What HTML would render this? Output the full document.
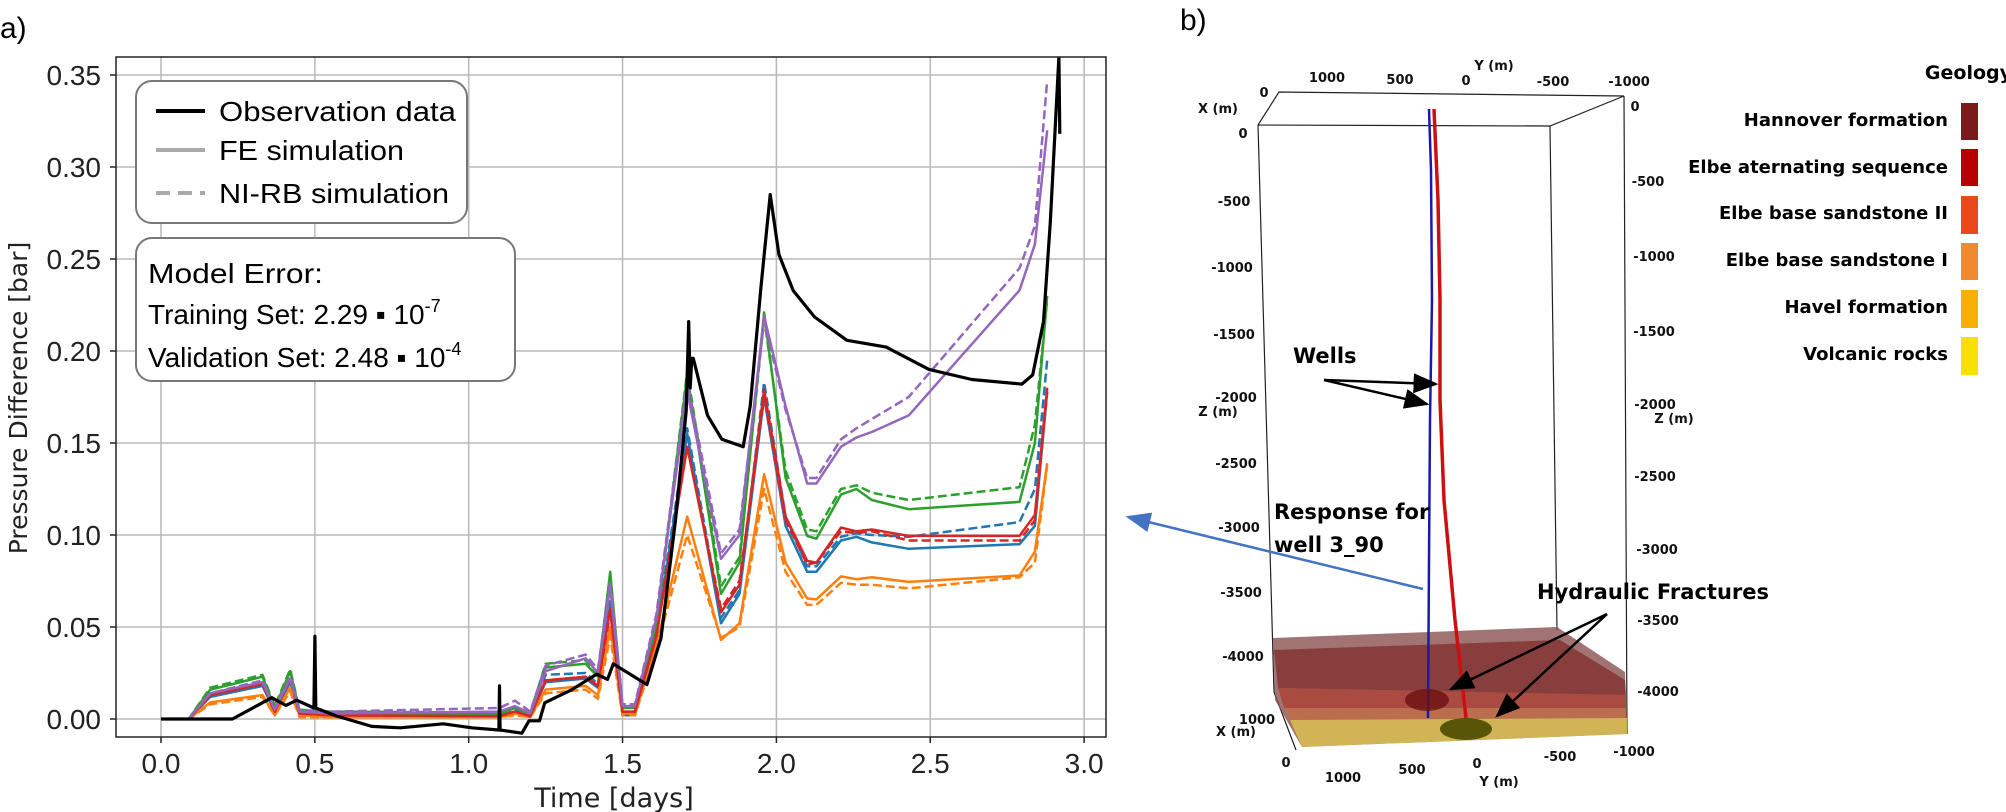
<!DOCTYPE html>
<html><head><meta charset="utf-8">
<style>
html,body{margin:0;padding:0;background:#fff;}
body{width:2006px;height:812px;overflow:hidden;position:relative;font-family:"Liberation Sans",sans-serif;}
svg{position:absolute;left:0;top:0;}
</style></head>
<body>
<svg id="chart" width="1120" height="812" viewBox="0 0 1120 812"></svg>
<svg id="model" width="2006" height="812" viewBox="0 0 2006 812" style="pointer-events:none">
  <g stroke="#222" stroke-width="1.2" fill="none">
    <polyline points="1258,125 1550,126 1624,96 1279,92 1258,125"/>
    <polyline points="1258,125 1274,692 1296,750"/>
    <polyline points="1550,126 1557,630"/>
    <polyline points="1624,96 1627,734"/>
  </g>
  <g>
    <polygon points="1273,638 1557,627 1625,672 1627,734 1302,747 1275,700" fill="#8a5050" opacity="0.8"/>
    <polygon points="1274,650 1560,640 1625,680 1626,695 1278,688" fill="#7a1a1a" opacity="0.6"/>
    <polygon points="1278,688 1626,695 1626,708 1284,708" fill="#b03020" opacity="0.6"/>
    <polygon points="1284,708 1626,708 1627,718 1290,720" fill="#d06a30" opacity="0.55"/>
    <polygon points="1290,720 1627,718 1627,734 1302,747" fill="#d8c050" opacity="0.85"/>
  </g>
  <g fill="none">
    <path d="M1429,109 L1431,170 L1432,300 L1430,420 L1429,560 L1428,718" stroke="#1a1aa8" stroke-width="2.5"/>
    <path d="M1434,109 L1438,200 L1440,300 L1440,400 L1444,500 L1455,620 L1466,718" stroke="#cc1010" stroke-width="3.5"/>
  </g>
  <ellipse cx="1427" cy="700" rx="22" ry="11" fill="#6a1010" opacity="0.8"/>
  <ellipse cx="1466" cy="729" rx="26" ry="11" fill="#4a4a00" opacity="0.9"/>
  <defs>
    <marker id="ah" markerWidth="10" markerHeight="10" refX="9" refY="5" orient="auto"><path d="M0,1 L10,5 L0,9 z" fill="#000"/></marker>
    <marker id="ahb" markerWidth="10" markerHeight="10" refX="9" refY="5" orient="auto"><path d="M0,1 L10,5 L0,9 z" fill="#4472c4"/></marker>
  </defs>
  <g stroke="#000" stroke-width="2.5">
    <line x1="1324" y1="380" x2="1436" y2="384" marker-end="url(#ah)"/>
    <line x1="1324" y1="380" x2="1427" y2="404" marker-end="url(#ah)"/>
    <line x1="1607" y1="614" x2="1451" y2="689" marker-end="url(#ah)"/>
    <line x1="1607" y1="614" x2="1497" y2="716" marker-end="url(#ah)"/>
  </g>
  <line x1="1423" y1="589" x2="1128" y2="517" stroke="#4472c4" stroke-width="2.5" marker-end="url(#ahb)"/>
  <g font-family="'DejaVu Sans',sans-serif" font-weight="bold" font-size="21" fill="#000">
    <text x="1293" y="363">Wells</text>
    <text x="1274" y="519">Response for</text>
    <text x="1274" y="552">well 3_90</text>
    <text x="1537" y="599">Hydraulic Fractures</text>
  </g>
  <text x="1180" y="30" font-size="30" font-family="'Liberation Sans',sans-serif">b)</text>
  <g font-family="'DejaVu Sans',sans-serif" font-weight="bold" font-size="13" fill="#111" text-anchor="middle">
    <text x="1243" y="138">0</text><text x="1234" y="206">-500</text><text x="1232" y="272">-1000</text><text x="1234" y="339">-1500</text><text x="1236" y="402">-2000</text><text x="1218" y="416">Z (m)</text><text x="1236" y="468">-2500</text><text x="1239" y="532">-3000</text><text x="1241" y="597">-3500</text><text x="1243" y="661">-4000</text>
    <text x="1635" y="111">0</text><text x="1648" y="186">-500</text><text x="1654" y="261">-1000</text><text x="1654" y="336">-1500</text><text x="1655" y="409">-2000</text><text x="1674" y="423">Z (m)</text><text x="1655" y="481">-2500</text><text x="1657" y="554">-3000</text><text x="1658" y="625">-3500</text><text x="1658" y="696">-4000</text><text x="1634" y="756">-1000</text>
    <text x="1327" y="82">1000</text><text x="1400" y="84">500</text><text x="1466" y="85">0</text><text x="1494" y="70">Y (m)</text><text x="1553" y="86">-500</text><text x="1629" y="86">-1000</text><text x="1264" y="97">0</text><text x="1218" y="113">X (m)</text>
    <text x="1257" y="724">1000</text><text x="1236" y="736">X (m)</text><text x="1286" y="767">0</text><text x="1343" y="782">1000</text><text x="1412" y="774">500</text><text x="1477" y="768">0</text><text x="1499" y="786">Y (m)</text><text x="1560" y="761">-500</text>
  </g>
  <g font-family="'DejaVu Sans',sans-serif" font-weight="bold" font-size="18" fill="#000" text-anchor="end">
    <text x="2012" y="79" font-size="19">Geology</text>
    <text x="1948" y="126">Hannover formation</text><rect x="1961" y="103" width="17" height="37" fill="#7a1a1a"/>
    <text x="1948" y="173">Elbe aternating sequence</text><rect x="1961" y="149" width="17" height="37" fill="#b80000"/>
    <text x="1948" y="219">Elbe base sandstone II</text><rect x="1961" y="196" width="17" height="38" fill="#e84a1e"/>
    <text x="1948" y="266">Elbe base sandstone I</text><rect x="1961" y="243" width="17" height="37" fill="#f08a30"/>
    <text x="1948" y="313">Havel formation</text><rect x="1961" y="290" width="17" height="38" fill="#f8b000"/>
    <text x="1948" y="360">Volcanic rocks</text><rect x="1961" y="337" width="17" height="38" fill="#f8e000"/>
  </g>
</svg>
<script>
const xTicks = [0.0, 0.5, 1.0, 1.5, 2.0, 2.5, 3.0];
const xTickLabels = ["0.0","0.5","1.0","1.5","2.0","2.5","3.0"];
const yTicks = [0, 0.05, 0.10, 0.15, 0.20, 0.25, 0.30, 0.35];
const yTickLabels = ["0.00","0.05","0.10","0.15","0.20","0.25","0.30","0.35"];
const obsT = [0,0.232,0.36,0.406,0.441,0.497,0.50,0.503,0.569,0.685,0.778,0.917,1.01,1.098,1.10,1.102,1.173,1.196,1.23,1.247,1.335,1.416,1.451,1.47,1.579,1.625,1.672,1.707,1.715,1.72,1.725,1.73,1.776,1.823,1.892,1.915,1.95,1.98,2.008,2.055,2.124,2.229,2.357,2.496,2.635,2.798,2.833,2.868,2.89,2.918,2.921];
const obsV = [0,0,0.0116,0.0074,0.0102,0.006,0.045,0.006,0.0017,-0.004,-0.0048,-0.0026,-0.0048,-0.006,0.018,-0.006,-0.0077,-0.001,-0.001,0.0088,0.0159,0.0244,0.0215,0.030,0.0187,0.044,0.108,0.1675,0.216,0.18,0.196,0.196,0.165,0.152,0.148,0.170,0.235,0.285,0.2525,0.2327,0.2185,0.2058,0.2021,0.190,0.1845,0.182,0.187,0.216,0.27,0.36,0.318];
const simT = [0,0.09,0.16,0.33,0.37,0.42,0.45,0.55,1.10,1.15,1.20,1.25,1.38,1.42,1.46,1.50,1.54,1.61,1.71,1.82,1.88,1.96,2.03,2.10,2.13,2.21,2.26,2.31,2.43,2.79,2.84,2.88];
const blueFE = [0,0,0.012,0.018,0.004,0.020,0.003,0.002,0.0015,0.004,0.0015,0.020,0.022,0.017,0.062,0.002,0.002,0.046,0.155,0.052,0.068,0.175,0.105,0.080,0.080,0.097,0.099,0.096,0.0925,0.095,0.105,0.178];
const blueNI = [0,0,0.013,0.019,0.004,0.021,0.003,0.002,0.002,0.005,0.002,0.024,0.025,0.019,0.064,0.003,0.003,0.048,0.158,0.055,0.070,0.183,0.110,0.083,0.083,0.099,0.101,0.100,0.099,0.107,0.125,0.195];
const orangeFE = [0,0,0.009,0.013,0.002,0.017,0.002,0.001,0.001,0.003,0.001,0.016,0.018,0.013,0.050,0.003,0.003,0.040,0.110,0.043,0.052,0.133,0.085,0.0655,0.065,0.0775,0.076,0.077,0.0745,0.078,0.091,0.139];
const orangeNI = [0,0,0.008,0.012,0.002,0.015,0.001,0.001,0.001,0.002,0.001,0.014,0.016,0.011,0.045,0.002,0.002,0.038,0.100,0.044,0.050,0.125,0.080,0.062,0.062,0.074,0.073,0.073,0.071,0.077,0.085,0.138];
const greenFE = [0,0,0.016,0.023,0.006,0.026,0.0045,0.003,0.0026,0.006,0.0026,0.028,0.030,0.023,0.080,0.006,0.006,0.051,0.187,0.068,0.085,0.221,0.131,0.0995,0.098,0.122,0.125,0.119,0.114,0.118,0.150,0.230];
const greenNI = [0,0,0.017,0.024,0.007,0.027,0.005,0.004,0.0035,0.007,0.003,0.030,0.032,0.025,0.078,0.007,0.007,0.052,0.189,0.072,0.088,0.218,0.135,0.103,0.102,0.125,0.127,0.123,0.119,0.126,0.160,0.228];
const redFE = [0,0,0.013,0.019,0.004,0.022,0.003,0.002,0.0015,0.004,0.0015,0.021,0.023,0.018,0.060,0.004,0.004,0.045,0.148,0.058,0.073,0.179,0.110,0.086,0.085,0.104,0.102,0.103,0.0995,0.0995,0.111,0.180];
const redNI = [0,0,0.013,0.019,0.004,0.022,0.003,0.002,0.0015,0.004,0.0015,0.021,0.023,0.018,0.058,0.004,0.004,0.045,0.148,0.060,0.075,0.175,0.108,0.084,0.085,0.102,0.101,0.102,0.097,0.097,0.108,0.178];
const purpleFE = [0,0,0.014,0.020,0.005,0.022,0.004,0.003,0.004,0.007,0.003,0.026,0.033,0.025,0.072,0.007,0.007,0.055,0.178,0.087,0.100,0.219,0.170,0.128,0.128,0.148,0.153,0.156,0.165,0.233,0.258,0.320];
const purpleNI = [0,0,0.014,0.021,0.006,0.023,0.005,0.004,0.006,0.010,0.004,0.029,0.035,0.027,0.075,0.008,0.008,0.057,0.183,0.090,0.103,0.216,0.168,0.131,0.131,0.152,0.158,0.163,0.175,0.245,0.268,0.347];

const NS = "http://www.w3.org/2000/svg";
const svg = document.getElementById('chart');
const L = 116, R = 1106, T = 57, B = 737;
function sx(v){ return 161 + v * 307.7; }
function sy(v){ return 719 - v * (92 / 0.05); }
function mk(tag, attrs, parent){
  const e = document.createElementNS(NS, tag);
  for (const k in attrs) e.setAttribute(k, attrs[k]);
  (parent || svg).appendChild(e);
  return e;
}
const FONT = "'Liberation Sans',sans-serif";
let t = mk('text', {x: 0, y: 38, 'font-size': 30, 'font-family': FONT});
t.textContent = 'a)';


const grid = mk('g', {stroke: '#b8b8b8', 'stroke-width': 1.5});


xTicks.forEach(v => { mk('line', {x1: sx(v), x2: sx(v), y1: T, y2: B}, grid); });
yTicks.forEach(v => { mk('line', {x1: L, x2: R, y1: sy(v), y2: sy(v)}, grid); });
const xt = mk('g', {'font-size': 28, 'font-family': FONT, 'text-anchor': 'middle', fill: '#222'});


xTicks.forEach((v, i) => {
  mk('line', {x1: sx(v), x2: sx(v), y1: B, y2: B + 6, stroke: '#222', 'stroke-width': 1.5}, xt);
  const e = mk('text', {x: sx(v), y: 773}, xt); e.textContent = xTickLabels[i];
});
const yt = mk('g', {'font-size': 28, 'font-family': FONT, 'text-anchor': 'end', fill: '#222'});


yTicks.forEach((v, i) => {
  mk('line', {x1: L - 6, x2: L, y1: sy(v), y2: sy(v), stroke: '#222', 'stroke-width': 1.5}, yt);
  const e = mk('text', {x: 101, y: sy(v) + 10}, yt); e.textContent = yTickLabels[i];
});
t = mk('text', {x: 614, y: 807, 'font-size': 27, 'font-family': "'DejaVu Sans',sans-serif", 'text-anchor': 'middle', fill: '#222'});
t.textContent = 'Time [days]';


t = mk('text', {x: 0, y: 0, 'font-size': 25, 'font-family': "'DejaVu Sans',sans-serif", 'text-anchor': 'middle', fill: '#222', transform: 'translate(27,398) rotate(-90)'});
t.textContent = 'Pressure Difference [bar]';


const defs = mk('defs', {});
const cp = mk('clipPath', {id: 'pc'}, defs);
mk('rect', {x: L, y: T, width: R - L, height: B - T}, cp);
function pts(xs, ys){ return xs.map((x, i) => sx(x).toFixed(1) + ',' + sy(ys[i]).toFixed(1)).join(' '); }
const series = [
  ['blue', '#1f77b4', blueFE, blueNI],
  ['orange', '#ff7f0e', orangeFE, orangeNI],
  ['green', '#2ca02c', greenFE, greenNI],
  ['red', '#d62728', redFE, redNI],
  ['purple', '#9467bd', purpleFE, purpleNI]
];
const lines = mk('g', {'clip-path': 'url(#pc)', fill: 'none', 'stroke-linejoin': 'round'});


series.forEach(s => {
  const a = mk('polyline', {points: pts(simT, s[2]), stroke: s[1], 'stroke-width': 2.5}, lines);
  
  
  const b = mk('polyline', {points: pts(simT, s[3]), stroke: s[1], 'stroke-width': 2.5, 'stroke-dasharray': '9,4'}, lines);
  
  
});
const ob = mk('polyline', {points: pts(obsT, obsV), stroke: '#000', 'stroke-width': 3.2}, lines);


const fr = mk('rect', {x: L, y: T, width: R - L, height: B - T, fill: 'none', stroke: '#222', 'stroke-width': 1.5});


const lg = mk('g', {});


mk('rect', {x: 136, y: 81, width: 331, height: 142, rx: 16, fill: '#fff', stroke: '#777', 'stroke-width': 2}, lg);
mk('line', {x1: 156, x2: 205, y1: 111, y2: 111, stroke: '#000', 'stroke-width': 4}, lg);
mk('line', {x1: 156, x2: 205, y1: 150, y2: 150, stroke: '#aaa', 'stroke-width': 4}, lg);
mk('line', {x1: 156, x2: 205, y1: 193, y2: 193, stroke: '#aaa', 'stroke-width': 4, 'stroke-dasharray': '14,8'}, lg);
[['Observation data', 121, 237], ['FE simulation', 160, 185], ['NI-RB simulation', 203, 230]].forEach(r => {
  const e = mk('text', {x: 219, y: r[1], 'font-size': 28, 'font-family': FONT, textLength: r[2], lengthAdjust: 'spacingAndGlyphs'}, lg);
  e.textContent = r[0];
});
const eb = mk('g', {'font-size': 28, 'font-family': FONT});


mk('rect', {x: 136, y: 238, width: 379, height: 143, rx: 16, fill: '#fff', stroke: '#777', 'stroke-width': 2}, eb);
let e1 = mk('text', {x: 148, y: 283, textLength: 175, lengthAdjust: 'spacingAndGlyphs'}, eb); e1.textContent = 'Model Error:';
e1 = mk('text', {x: 148, y: 324}, eb); e1.innerHTML = 'Training Set: 2.29 ▪ 10<tspan font-size="18" dy="-12">-7</tspan>';
e1 = mk('text', {x: 148, y: 367}, eb); e1.innerHTML = 'Validation Set: 2.48 ▪ 10<tspan font-size="18" dy="-12">-4</tspan>';
</script>
</body></html>
